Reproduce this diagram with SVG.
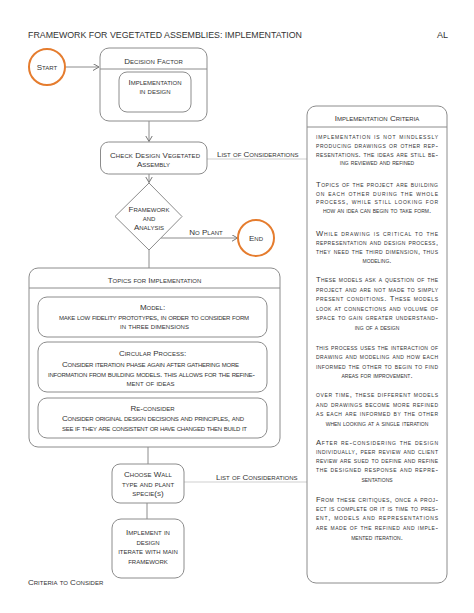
<svg xmlns="http://www.w3.org/2000/svg" width="474" height="613" viewBox="0 0 474 613">
<defs>
<style>
text{font-family:"Liberation Sans",Arial,sans-serif;fill:#333;}
.sc{font-variant:small-caps;font-size:8px;text-anchor:middle;}
.sl{font-variant:small-caps;font-size:8px;text-anchor:start;}
.cr{font-variant:small-caps;font-size:7.6px;text-anchor:middle;}
.crj{font-variant:small-caps;font-size:7.6px;text-anchor:start;}
.box{fill:#fff;stroke:#8c8c8c;stroke-width:1;}
.hdr{stroke:#8c8c8c;stroke-width:1;fill:none;}
.term{fill:#fff;stroke:#e57c2e;stroke-width:2;}
.con{stroke:#8c8c8c;stroke-width:1;fill:none;}
.lite{stroke:#cfcfcf;stroke-width:1;fill:none;}
</style>
<marker id="arr" markerWidth="8" markerHeight="8" refX="6" refY="3.5" orient="auto" markerUnits="userSpaceOnUse">
<path d="M0,0 L6,3.5 L0,7" fill="none" stroke="#777" stroke-width="1"/>
</marker>
</defs>
<rect width="474" height="613" fill="#fff"/>
<text x="28" y="38" font-size="9" textLength="274" lengthAdjust="spacingAndGlyphs">FRAMEWORK FOR VEGETATED ASSEMBLIES: IMPLEMENTATION</text>
<text x="437" y="38" font-size="9">AL</text>

<g id="connectors">
<line class="con" x1="66" y1="67" x2="99" y2="67" marker-end="url(#arr)"/>
<line class="con" x1="149" y1="121" x2="149" y2="141.5" marker-end="url(#arr)"/>
<line class="con" x1="149" y1="174" x2="149" y2="182.5" marker-end="url(#arr)"/>
<line class="con" x1="161" y1="238" x2="237.5" y2="238" marker-end="url(#arr)"/>
<line class="con" x1="149" y1="250" x2="149" y2="268"/>
<line class="con" x1="148" y1="447" x2="148" y2="464"/>
<line class="con" x1="147" y1="503" x2="147" y2="519"/>
<line class="lite" x1="207" y1="159" x2="307" y2="159"/>
<line class="lite" x1="184" y1="482" x2="307" y2="482"/>
<text class="sc" x="206" y="235">No Plant</text>
<text class="sl" x="217" y="157">List of Considerations</text>
<text class="sl" x="216" y="480">List of Considerations</text>
</g>

<g id="start">
<circle class="term" cx="47" cy="67" r="18"/>
<text class="sc" x="47" y="70">Start</text>
</g>

<g id="decision-factor">
<rect class="box" x="100" y="48" width="107" height="73" rx="9"/>
<line class="hdr" x1="100" y1="69" x2="207" y2="69"/>
<text class="sc" x="153.5" y="63.5">Decision Factor</text>
<rect class="box" x="119" y="72" width="72" height="40" rx="8"/>
<text class="sc" x="155" y="84.5" font-size="7.5">Implementation</text>
<text class="sc" x="155" y="94" font-size="7.5">in design</text>
</g>

<g id="check-design">
<rect class="box" x="100.5" y="142" width="106.5" height="32" rx="8"/>
<text class="sc" x="155" y="157.5" textLength="90" lengthAdjust="spacing">Check Design Vegetated</text>
<text class="sc" x="153.5" y="166.5">Assembly</text>
</g>

<g id="framework-analysis">
<polygon class="box" points="149,183 182,216.5 149,250 115,216.5"/>
<text class="sc" x="149" y="211.5">Framework</text>
<text class="sc" x="149" y="220.5">and</text>
<text class="sc" x="149" y="229.5">Analysis</text>
</g>

<g id="end">
<circle class="term" cx="256" cy="238" r="18"/>
<text class="sc" x="256" y="241">End</text>
</g>

<g id="topics">
<rect class="box" x="29" y="268" width="251" height="179" rx="9"/>
<line class="hdr" x1="29" y1="288" x2="280" y2="288"/>
<text class="sc" x="154.5" y="282.5">Topics for Implementation</text>
</g>

<g id="model">
<rect class="box" x="38" y="297" width="229" height="40" rx="9"/>
<text class="sc" x="152.5" y="310" font-size="8.5">Model:</text>
<text class="sc" x="154" y="320" font-size="7.3" textLength="190" lengthAdjust="spacing">make low fidelity prototypes, in order to consider form</text>
<text class="sc" x="154.5" y="329" font-size="7.3">in three dimensions</text>
</g>

<g id="circular">
<rect class="box" x="38" y="342" width="229" height="50" rx="9"/>
<text class="sc" x="152.5" y="356" font-size="8.5">Circular Process:</text>
<text class="sc" x="150.5" y="367" font-size="7.5" textLength="177" lengthAdjust="spacing">Consider iteration phase again after gathering more</text>
<text class="sc" x="151.5" y="377" font-size="7.3" textLength="207" lengthAdjust="spacing">information from building models. this allows for the refine-</text>
<text class="sc" x="150.5" y="386" font-size="7.3">ment of ideas</text>
</g>

<g id="reconsider">
<rect class="box" x="38" y="398" width="229" height="40" rx="9"/>
<text class="sc" x="152.5" y="411" font-size="8.5">Re-consider</text>
<text class="sc" x="153" y="421" font-size="7.5" textLength="182" lengthAdjust="spacing">Consider original design decisions and principles, and</text>
<text class="sc" x="154.5" y="431" font-size="7.3" textLength="185" lengthAdjust="spacing">see if they are consistent or have changed then build it</text>
</g>

<g id="choose-wall">
<rect class="box" x="112" y="464" width="72" height="39" rx="8"/>
<text class="sc" x="148" y="477">Choose Wall</text>
<text class="sc" x="148" y="487" font-size="7.3">type and plant</text>
<text class="sc" x="148" y="496" font-size="7.3">specie(s)</text>
</g>

<g id="implement">
<rect class="box" x="112" y="519" width="72" height="59" rx="9"/>
<text class="sc" x="148" y="535">Implement in</text>
<text class="sc" x="148" y="545" font-size="7.3">design</text>
<text class="sc" x="148" y="554" font-size="7.3">iterate with main</text>
<text class="sc" x="148" y="564" font-size="7.3">framework</text>
</g>

<text class="sl" x="28" y="585">Criteria to Consider</text>

<g id="implementation-criteria">
<rect class="box" x="307" y="106" width="140" height="477" rx="9" stroke-width="1.3"/>
<line class="hdr" x1="307" y1="127" x2="447" y2="127"/>
<text class="sc" x="377" y="121">Implementation Criteria</text>

<text class="crj" x="316" y="139" textLength="122" lengthAdjust="spacing">implementation is not mindlessly</text>
<text class="crj" x="316" y="148" textLength="122" lengthAdjust="spacing">producing drawings or other rep-</text>
<text class="crj" x="316" y="156.5" textLength="122" lengthAdjust="spacing">resentations. the ideas are still be-</text>
<text class="cr" x="377" y="165">ing reviewed and refined</text>

<text class="crj" x="316" y="186.5" textLength="122" lengthAdjust="spacing">Topics of the project are building</text>
<text class="crj" x="316" y="195.5" textLength="122" lengthAdjust="spacing">on each other during the whole</text>
<text class="crj" x="316" y="204" textLength="122" lengthAdjust="spacing">process, while still looking for</text>
<text class="cr" x="377" y="212.5">how an idea can begin to take form.</text>

<text class="crj" x="316" y="235.5" textLength="122" lengthAdjust="spacing">While drawing is critical to the</text>
<text class="crj" x="316" y="244.5" textLength="122" lengthAdjust="spacing">representation and design process,</text>
<text class="crj" x="316" y="253.5" textLength="122" lengthAdjust="spacing">they need the third dimension, thus</text>
<text class="cr" x="377" y="262.5">modeling.</text>

<text class="crj" x="316" y="281.5" textLength="122" lengthAdjust="spacing">These models ask a question of the</text>
<text class="crj" x="316" y="291.5" textLength="122" lengthAdjust="spacing">project and are not made to simply</text>
<text class="crj" x="316" y="300.5" textLength="122" lengthAdjust="spacing">present conditions. These models</text>
<text class="crj" x="316" y="310.5" textLength="122" lengthAdjust="spacing">look at connections and volume of</text>
<text class="crj" x="316" y="319.5" textLength="122" lengthAdjust="spacing">space to gain greater understand-</text>
<text class="cr" x="377" y="329.5">ing of a design</text>

<text class="crj" x="316" y="349.5" textLength="122" lengthAdjust="spacing">this process uses the interaction of</text>
<text class="crj" x="316" y="358.5" textLength="122" lengthAdjust="spacing">drawing and modeling and how each</text>
<text class="crj" x="316" y="368.5" textLength="122" lengthAdjust="spacing">informed the other to begin to find</text>
<text class="cr" x="377" y="377.5">areas for improvement.</text>

<text class="crj" x="316" y="396.5" textLength="122" lengthAdjust="spacing">over time, these different models</text>
<text class="crj" x="316" y="406.5" textLength="122" lengthAdjust="spacing">and drawings become more refined</text>
<text class="crj" x="316" y="415.5" textLength="122" lengthAdjust="spacing">as each are informed by the other</text>
<text class="cr" x="377" y="425.5">when looking at a single iteration</text>

<text class="crj" x="316" y="444.5" textLength="122" lengthAdjust="spacing">After re-considering the design</text>
<text class="crj" x="316" y="453.5" textLength="122" lengthAdjust="spacing">individually, peer review and client</text>
<text class="crj" x="316" y="462.5" textLength="122" lengthAdjust="spacing">review are sued to define and refine</text>
<text class="crj" x="316" y="471.5" textLength="122" lengthAdjust="spacing">the designed response and repre-</text>
<text class="cr" x="377" y="481.5">sentations</text>

<text class="crj" x="316" y="501.5" textLength="122" lengthAdjust="spacing">From these critiques, once a proj-</text>
<text class="crj" x="316" y="510.5" textLength="122" lengthAdjust="spacing">ect is complete or it is time to pres-</text>
<text class="crj" x="316" y="519.5" textLength="122" lengthAdjust="spacing">ent, models and representations</text>
<text class="crj" x="316" y="529.5" textLength="122" lengthAdjust="spacing">are made of the refined and imple-</text>
<text class="cr" x="377" y="539.5">mented iteration.</text>
</g>
</svg>
